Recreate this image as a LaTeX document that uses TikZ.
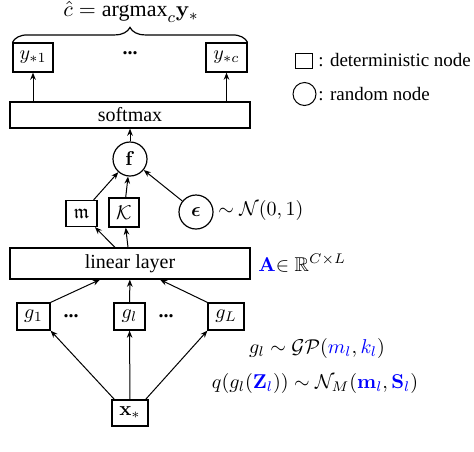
\documentclass[tikz,border=0pt]{standalone}
\usepackage{amsmath,amssymb}
\usepackage[no-math]{fontspec}
\setmainfont{Liberation Serif}
\usetikzlibrary{arrows.meta,decorations.pathreplacing}
\begin{document}
\begin{tikzpicture}[x=0.5pt,y=-0.5pt,
  box/.style={draw,line width=0.6pt,inner sep=0pt},
  rnd/.style={draw,circle,line width=0.6pt,inner sep=0pt,minimum size=17pt},
  arr/.style={-{Stealth[length=3.6pt,width=2.8pt]},line width=0.5pt},
  lbl/.style={inner sep=0pt},
  dotsl/.style={inner sep=0pt,font=\bfseries},
  leg/.style={inner sep=0pt,anchor=west,font=\fontsize{9.5}{11}\selectfont}]
\useasboundingbox (0,0) rectangle (474,451);
% top
\node[lbl,font=\fontsize{11}{13}\selectfont] (title) at (131,12) {$\hat{c}=\textrm{argmax}_c\mathbf{y}_*$};
\node[box,minimum width=20pt,minimum height=14.5pt] (y1) at (33,57.5) {$y_{*1}$};
\node[box,minimum width=20.5pt,minimum height=14.5pt] (yc) at (226.5,57.5) {$y_{*c}$};
\node[dotsl] (tdots) at (130,53) {...};
\draw[line width=0.6pt,decorate,decoration={brace,amplitude=7.5pt}] (y1.north west) -- (yc.north east);
\node[box,minimum width=120pt,minimum height=13pt] (soft) at (130,115) {softmax};
\node[rnd] (f) at (130,159) {$\mathbf{f}$};
\node[box,minimum width=15.5pt,minimum height=13pt] (m) at (81.5,213.5) {$\mathfrak{m}$};
\node[box,minimum width=15pt,minimum height=14.5pt] (K) at (124,212.5) {$\mathcal{K}$};
\node[rnd] (eps) at (196,212) {$\boldsymbol{\epsilon}$};
\node[lbl,anchor=west] (nd) at (218,210) {$\sim\mathcal{N}(0,1)$};
\node[box,minimum width=120pt,minimum height=15.5pt] (lin) at (130,263.5) {linear layer};
\node[lbl,anchor=west] (A) at (258,263) {$\textcolor{blue}{\mathbf{A}}{\in}\;\mathbb{R}^{C\times L}$};
\node[box,minimum width=16.5pt,minimum height=13.5pt] (g1) at (33.5,316.5) {$g_1$};
\node[box,minimum width=15.5pt,minimum height=13.5pt] (gl) at (129.5,316.5) {$g_l$};
\node[box,minimum width=18pt,minimum height=13.5pt] (gL) at (226,316.5) {$g_L$};
\node[dotsl] (d1) at (71,316) {...};
\node[dotsl] (d2) at (166,316) {...};
\node[box,minimum width=18pt,minimum height=13pt] (x) at (130,413) {$\mathbf{x}_*$};
\node[lbl] (eq1) at (317,348) {$g_l\sim\mathcal{GP}(\textcolor{blue}{m_l},\textcolor{blue}{k_l})$};
\node[lbl] (eq2) at (315,383) {$q(g_l(\textcolor{blue}{\mathbf{Z}_l}))\sim\mathcal{N}_M(\textcolor{blue}{\mathbf{m}_l},\textcolor{blue}{\mathbf{S}_l})$};
% legend
\node[draw,line width=0.5pt,minimum width=8.5pt,minimum height=7.5pt,inner sep=0pt] (lsq) at (303.5,60.5) {};
\node[leg] (lsqt) at (318,60) {: deterministic node};
\node[draw,circle,line width=0.5pt,minimum size=11.5pt,inner sep=0pt] (lci) at (304.5,94) {};
\node[leg] (lcit) at (318,94) {: random node};
% arrows
\draw[arr] (soft.north -| y1) -- (y1.south);
\draw[arr] (soft.north -| yc) -- (yc.south);
\draw[arr] (f) -- (soft);
\draw[arr] (m) -- (f);
\draw[arr] (K) -- (f);
\draw[arr] (eps) -- (f);
\draw[arr] ([xshift=-7.5pt]lin.north) -- (m);
\draw[arr] ([xshift=-1pt]lin.north) -- (K);
\draw[arr] (g1.north east) -- ([xshift=-15pt]lin.south);
\draw[arr] (gl) -- (lin);
\draw[arr] (gL.north west) -- ([xshift=15pt]lin.south);
\draw[arr] ([xshift=1.5pt]x.north west) -- (g1.south east);
\draw[arr] (x) -- (gl);
\draw[arr] ([xshift=-1.5pt]x.north east) -- (gL.south west);
\end{tikzpicture}
\end{document}
